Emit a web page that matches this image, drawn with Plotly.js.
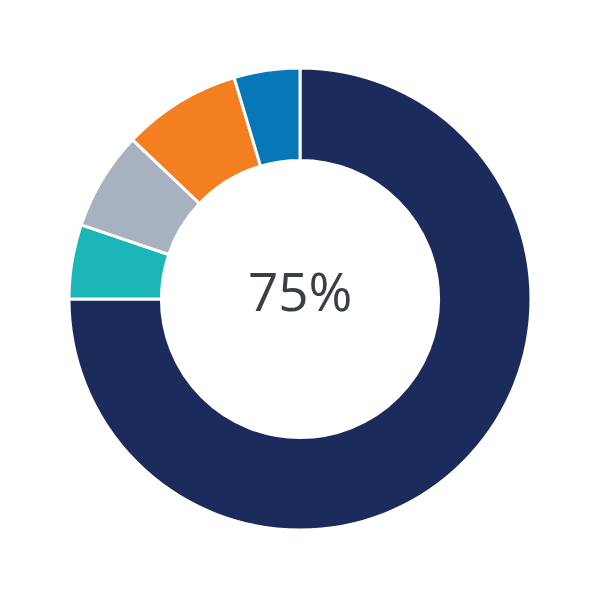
<!DOCTYPE html>
<html>
<head>
<meta charset="utf-8">
<script src="https://cdn.plot.ly/plotly-3.0.1.min.js"></script>
<style>html,body{margin:0;padding:0;background:#fff;}#chart{width:600px;height:599px;}</style>
</head>
<body>
<div id="chart"></div>
<script>
const labels = ["Main", "Teal", "Gray", "Orange", "Blue"];
const values = [75, 5.2, 6.9, 8.3, 4.6];
const colors = ["#1b2b5b", "#1bb6b7", "#a8b1bf", "#f47f20", "#0877b8"];
const centerLabel = "75%";

Plotly.newPlot("chart", [{
  type: "pie",
  labels: labels,
  values: values,
  hole: 0.6,
  sort: false,
  direction: "clockwise",
  rotation: 0,
  textinfo: "none",
  hoverinfo: "none",
  marker: {colors: colors, line: {color: "#ffffff", width: 3}}
}], {
  width: 600,
  height: 599,
  showlegend: false,
  margin: {l: 69, r: 69, t: 68, b: 69},
  paper_bgcolor: "#ffffff",
  annotations: [{
    text: centerLabel,
    x: 0.5, y: 0.5, xref: "paper", yref: "paper",
    yshift: 9,
    showarrow: false,
    font: {family: "Open Sans", size: 53, color: "#3a3f47"}
  }]
}, {staticPlot: true});
</script>
</body>
</html>
